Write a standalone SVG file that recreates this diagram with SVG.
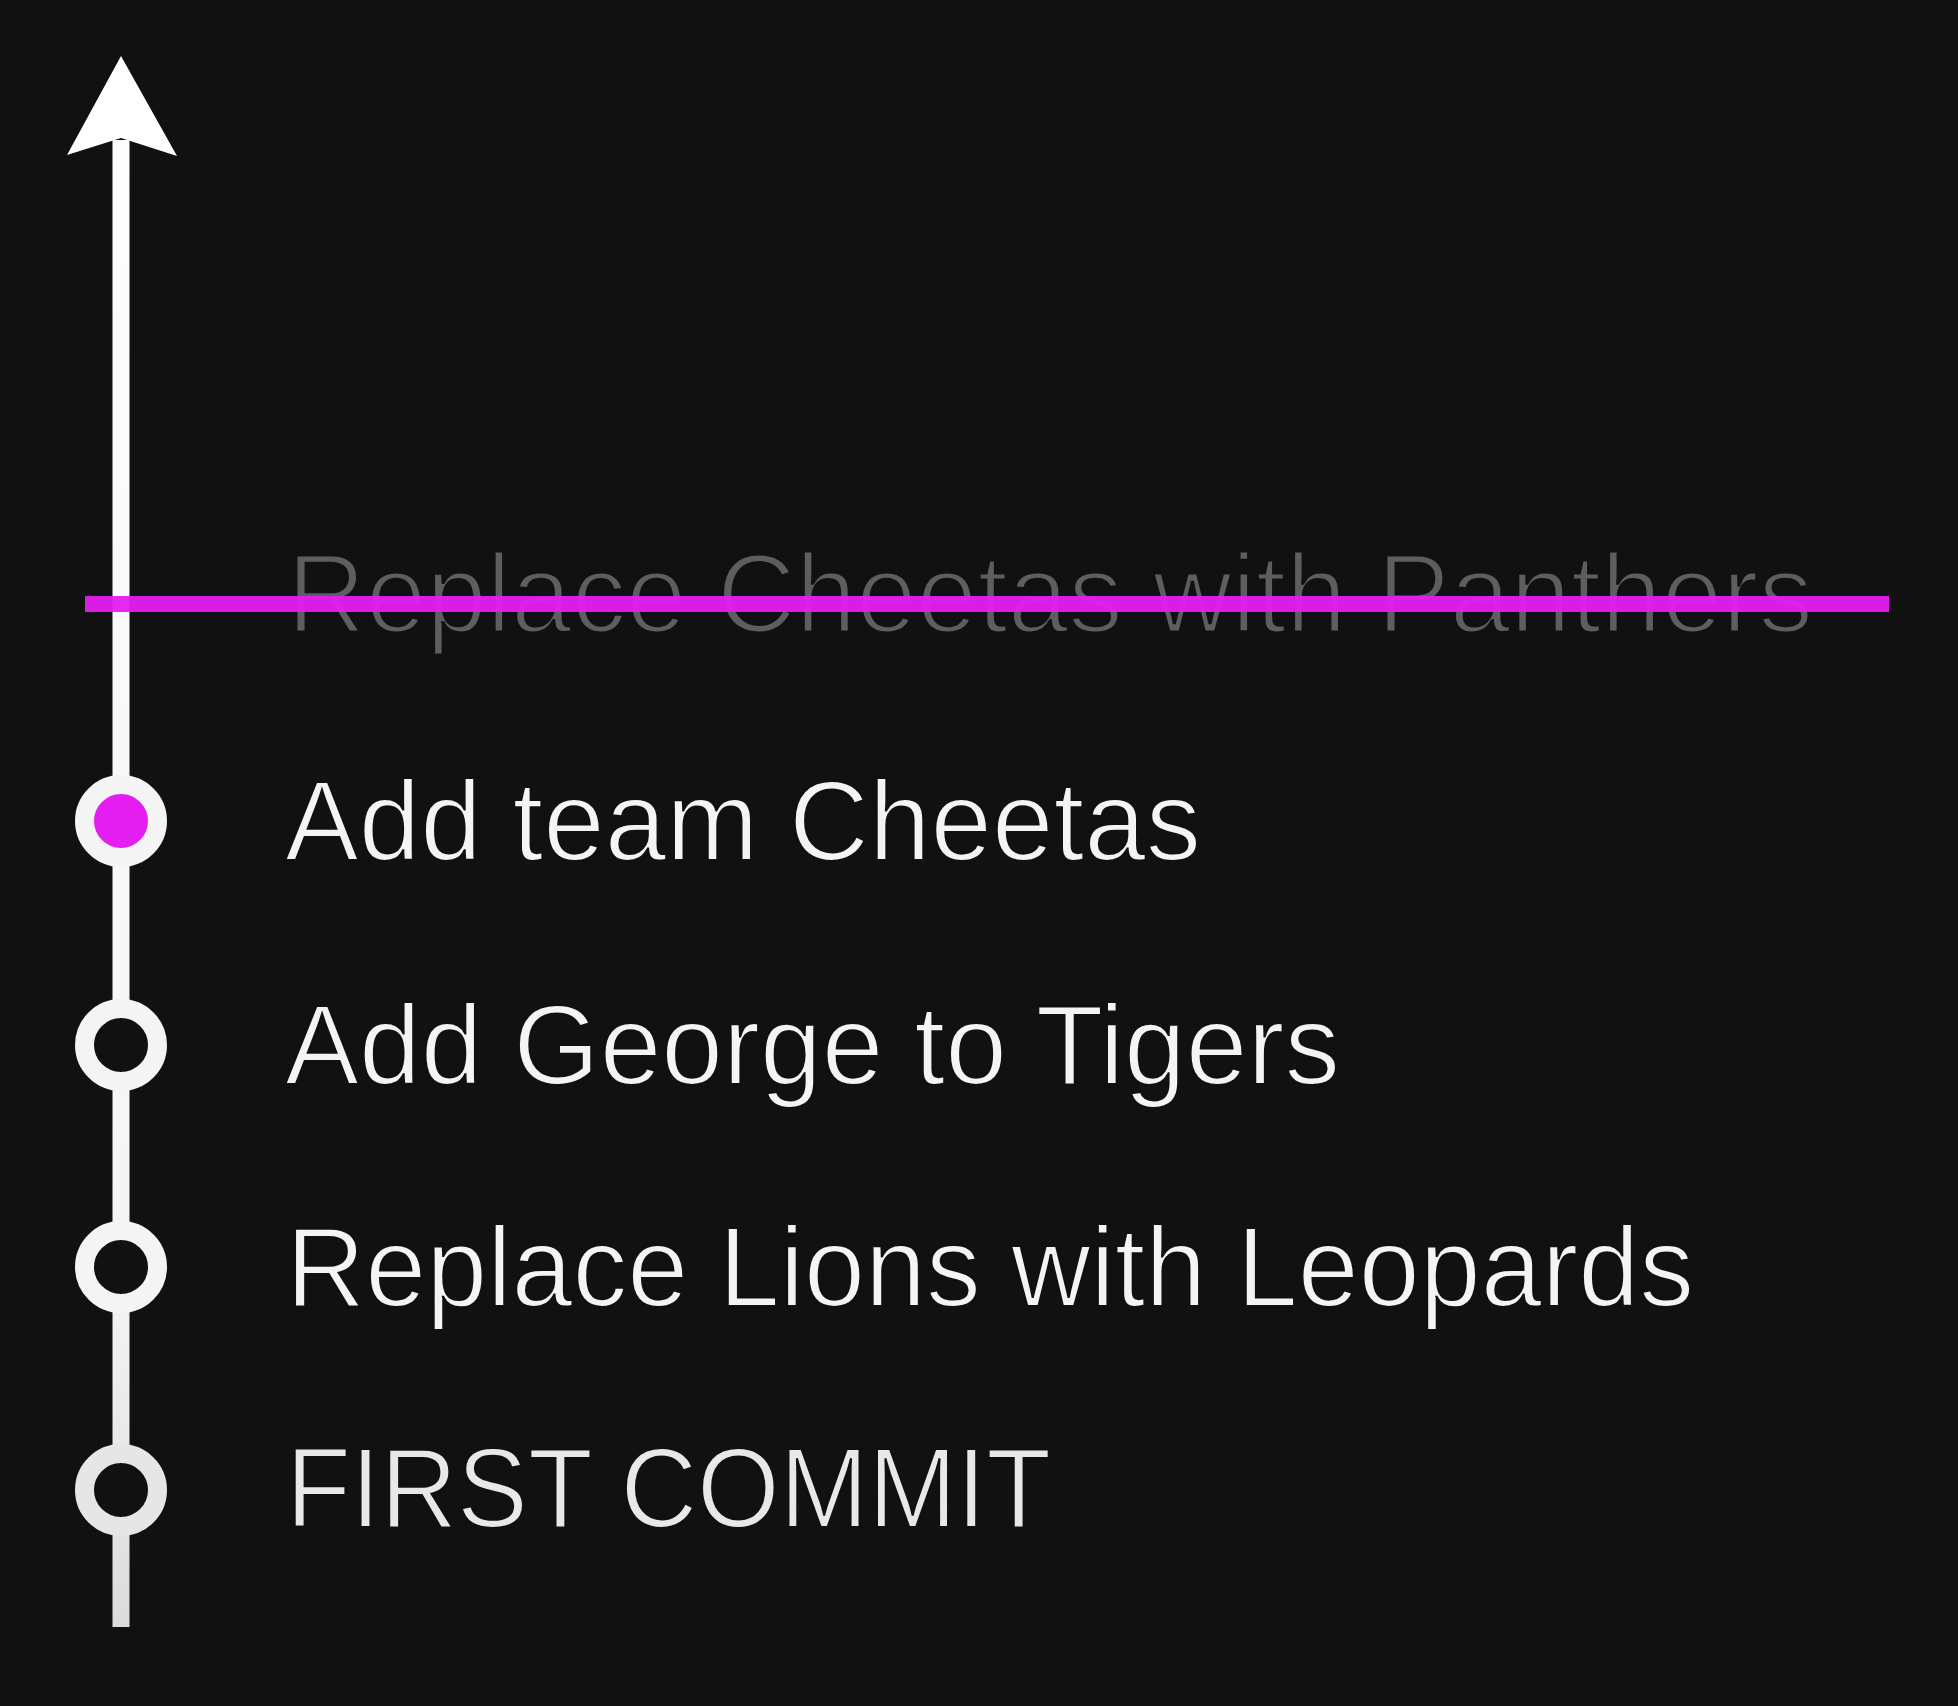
<svg xmlns="http://www.w3.org/2000/svg" width="1958" height="1706" viewBox="0 0 1958 1706">
  <defs>
    <style>
      .lbl { font-family: "Liberation Sans", Arial, Helvetica, sans-serif; font-size: 114px; fill: #f4f4f4; stroke: #111111; stroke-width: 2.2px; paint-order: normal; }
      .ghost { font-family: "Liberation Sans", Arial, Helvetica, sans-serif; font-size: 112px; fill: #5e5e5e; stroke: #111111; stroke-width: 3.2px; paint-order: normal; }
      .ring { stroke: #f4f4f4; stroke-width: 19; fill: #111111; }
    </style>
    <linearGradient id="fade" x1="0" y1="0" x2="0" y2="1706" gradientUnits="userSpaceOnUse">
      <stop offset="0" stop-color="#ffffff"/>
      <stop offset="0.75" stop-color="#f4f4f4"/>
      <stop offset="1" stop-color="#d6d6d6"/>
    </linearGradient>
  </defs>
  <rect x="0" y="0" width="1958" height="1706" fill="#111111"/>

  <g id="connectors">
    <line x1="121" y1="140" x2="121" y2="1627" stroke="url(#fade)" stroke-width="17"/>
    <path d="M121,56 L177,156 L121,138 L67,155 Z" fill="#ffffff"/>
  </g>

  <g id="rejected">
    <text class="ghost" x="287" y="632" textLength="1526" lengthAdjust="spacingAndGlyphs">Replace Cheetas with Panthers</text>
    <line x1="85" y1="604" x2="1889" y2="604" stroke="#e41ef0" stroke-width="16" opacity="0.95"/>
  </g>

  <g id="commit-cheetas">
    <circle class="ring" cx="121" cy="821" r="36.5" style="fill:#e41ef0"/>
    <text class="lbl" x="285" y="860" textLength="916" lengthAdjust="spacingAndGlyphs">Add team Cheetas</text>
  </g>

  <g id="commit-george">
    <circle class="ring" cx="121" cy="1045" r="36.5"/>
    <text class="lbl" x="285" y="1084" textLength="1055" lengthAdjust="spacingAndGlyphs">Add George to Tigers</text>
  </g>

  <g id="commit-lions">
    <circle class="ring" cx="121" cy="1267" r="36.5"/>
    <text class="lbl" x="286" y="1306" textLength="1408" lengthAdjust="spacingAndGlyphs">Replace Lions with Leopards</text>
  </g>

  <g id="commit-first">
    <circle class="ring" cx="121" cy="1490" r="36.5" style="stroke:#e6e6e6"/>
    <text class="lbl" x="286" y="1527" textLength="765" lengthAdjust="spacingAndGlyphs" style="fill:#e8e8e8">FIRST COMMIT</text>
  </g>
</svg>
